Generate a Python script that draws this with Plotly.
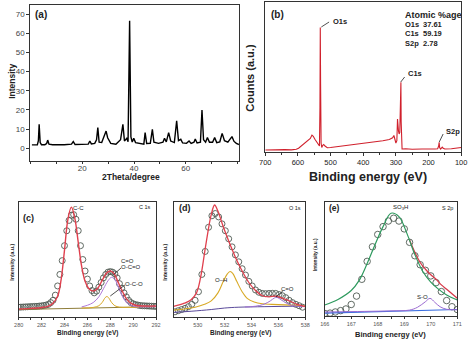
import plotly.graph_objects as go

# ---------------- data ----------------
# (a) XRD pattern
xrd_2theta = [0.5, 2.6, 3.0, 3.3, 3.7, 4.2, 5.5, 6.2, 6.6, 7.1, 8.5, 11, 13, 15.8, 16.5, 17.2, 20, 22.3, 22.9, 23.5, 24.8, 25.5,
              26.0, 26.5, 27.5, 28.6, 29.2, 29.8, 31, 33, 34.8, 35.7, 36.3, 37.2, 37.7, 38.3, 38.8, 39.3, 39.9, 40.6, 42.5,
              43.8, 44.3, 44.9, 46.3, 47.1, 47.7, 49.5, 51.2, 51.8, 52.5, 53.4, 54.2, 55.6, 56.5, 57.2, 58.1, 58.8, 60.3,
              61.3, 62.1, 63.2, 63.7, 64.4, 65.7, 66.3, 66.9, 67.7, 68.4, 69.2, 70.4, 71.2, 72.0, 73.2, 74.1, 75.0, 76.3,
              77.9, 78.7, 79.6, 80.6]
xrd_int = [1.8, 1.8, 4, 12.5, 3, 1.9, 1.9, 2.5, 4.3, 2.2, 1.9, 1.8, 1.9, 2.2, 3.5, 2, 1.9, 2.2, 3.8, 2.3, 2.6, 4.5,
           10.8, 3.2, 3, 6.5, 9, 5.5, 2.6, 2.1, 4.5, 12.5, 3.8, 5.2, 3.5, 66.5, 6, 3.3, 5.2, 3, 2.4,
           2.2, 8.2, 2.5, 2.6, 9.9, 3.2, 2.6, 3.2, 5.2, 3.4, 8.2, 3.8, 3, 14.4, 4, 4.7, 2.8, 2.6,
           3.8, 2.6, 3.2, 4.9, 2.8, 3.2, 20, 4.5, 3.2, 5.6, 3.2, 3.2, 5.6, 3.0, 3.4, 7.8, 4.0, 3.2,
           6.1, 3.6, 2.6, 2.0]
xrd_yticks = [0, 10, 20, 30, 40, 50, 60, 70]
xrd_xticks = [20, 40, 60]

# (b) XPS survey
survey_be = [700, 680, 660, 640, 620, 605, 598, 590, 580, 570, 562, 557, 553, 548, 543, 538, 534, 532.5, 531.5, 530.5,
             529, 527, 524, 521, 517, 510, 500, 480, 450, 420, 400, 370, 340, 320, 310, 306, 303, 300, 297, 295,
             292, 290, 288, 286.5, 285.5, 284.6, 283.8, 282.8, 281, 270, 250, 220, 200, 180, 172, 169, 167.5, 166,
             163, 158, 155, 150, 130, 110, 100]
survey_counts = [1.3, 1.5, 1.2, 1.6, 1.4, 1.8, 2.5, 4, 6, 7.5, 9, 11.3, 10.5, 8.5, 7, 5, 4, 30, 83, 45,
                 6, 3, 4.5, 5, 4, 2.8, 3, 3.5, 4.3, 5, 5.5, 6.5, 7.5, 8.3, 9.5, 11, 7, 6, 7.5, 22,
                 14, 12, 13, 30, 40, 46.5, 20, 3, 2, 2.2, 1.8, 2, 1.8, 2, 2.2, 4, 6.5, 3,
                 2, 3.3, 2.5, 2, 2.2, 2.5, 3]
survey_ticks = [700, 600, 500, 400, 300, 200, 100]
atomic_labels = ["O1s", "C1s", "S2p"]
atomic_pct = ["37.61", "59.19", "2.78"]

# (c) C 1s
c1s_be = [280.0, 280.2, 280.4, 280.6, 280.8, 281.0, 281.2, 281.4, 281.6, 281.8, 282.0, 282.2, 282.4, 282.6, 282.8,
          283.0, 283.2, 283.4, 283.6, 283.8, 284.0, 284.2, 284.4, 284.6, 284.8, 285.0, 285.2, 285.4, 285.6, 285.8,
          286.0, 286.2, 286.4, 286.6, 286.8, 287.0, 287.2, 287.4, 287.6, 287.8, 288.0, 288.2, 288.4, 288.6, 288.8,
          289.0, 289.2, 289.4, 289.6, 289.8, 290.0, 290.2, 290.4, 290.6, 290.8, 291.0, 291.2, 291.4, 291.6, 291.8, 292.0]
c1s_raw = [8.5, 8.6, 8.7, 8.8, 8.9, 9, 9.1, 9.2, 9.3, 9.5, 9.7, 10, 10.4, 11, 12.5,
           14.5, 19, 27, 37, 49, 62, 75, 84, 88.5, 89, 85, 75, 62, 50, 40,
           33, 27, 23, 21, 22.5, 26, 30, 34, 37, 39, 39.5, 39, 37.5, 34, 29,
           25, 21, 17.5, 14.5, 12.5, 11.5, 10.8, 10.4, 10, 9.8, 9.7, 9.6, 9.5, 9.4, 9.3, 9.2]
c1s_fit_be = [280, 281, 282, 282.6, 283.0, 283.4, 283.7, 284.0, 284.3, 284.6, 284.9, 285.2, 285.5, 285.8, 286.1,
              286.5, 286.9, 287.3, 287.7, 288.0, 288.3, 288.7, 289.0, 289.4, 289.8, 290.3, 291, 292]
c1s_fit = [7, 7.5, 8.3, 9.5, 12, 18, 32, 58, 85, 95.5, 86, 65, 44, 31, 25,
           22.5, 25, 32, 38.5, 40, 38, 30, 23.5, 16, 12, 10, 9.5, 9.5]
c1s_oco2_be = [285.5, 286.0, 286.5, 287.0, 287.4, 287.8, 288.1, 288.4, 288.7, 289.0, 289.3, 289.7, 290.2, 291, 292]
c1s_oco2 = [8.8, 10.2, 12.5, 17.5, 24.5, 31.5, 34.5, 32.5, 26, 19, 14, 10.5, 9, 8.8, 9]
c1s_oco_be = [285.5, 286.5, 287.0, 287.3, 287.55, 287.7, 287.85, 288.1, 288.4, 288.8, 289.5, 290.5]
c1s_oco = [7.8, 8.3, 9.8, 12.8, 16.8, 17.8, 16.8, 12.8, 9.8, 8.6, 8.4, 8.5]
c1s_bg_be = [280, 284, 288, 292]
c1s_bg = [6.5, 7.2, 8.2, 9.0]

# (d) O 1s
o1s_be = [528.3, 528.55, 528.8, 529.05, 529.3, 529.55, 529.8, 530.05, 530.3, 530.55, 530.8, 531.05, 531.3, 531.55,
          531.8, 532.05, 532.3, 532.55, 532.8, 533.05, 533.3, 533.55, 533.8, 534.05, 534.3, 534.55, 534.8, 535.05,
          535.3, 535.55, 535.8, 536.05, 536.3, 536.55, 536.8, 537.05, 537.3, 537.55, 537.8]
o1s_raw = [4.5, 5.5, 6.5, 7.5, 9, 11, 14.5, 22, 37, 57, 78, 88, 90, 87,
           81, 75, 68, 61, 54, 48, 42, 36.5, 31, 27, 23.5, 21.5, 20.5, 20.3,
           20.5, 20.6, 20.5, 19.5, 18.5, 16.8, 14.5, 12.5, 11, 9.8, 8.5]
o1s_fit_be = [528.2, 529.0, 529.5, 529.9, 530.2, 530.6, 531.0, 531.25, 531.5, 531.85, 532.3, 532.8, 533.3, 533.8,
              534.3, 534.8, 535.3, 535.8, 536.3, 536.8, 537.4, 538.0]
o1s_fit = [9.3, 12, 15, 21, 34, 63, 89, 97.4, 92, 80, 66, 52, 40, 30,
           23, 18.5, 17.5, 18.2, 16.5, 14, 11, 9]
o1s_oh_be = [528.2, 529.0, 529.8, 530.5, 531.0, 531.5, 531.9, 532.2, 532.4, 532.6, 532.9, 533.3, 533.7, 534.2,
             534.8, 535.5, 536.5, 538.0]
o1s_oh = [6, 7, 8.5, 11, 14, 21, 31, 37.5, 39.5, 38, 31, 22, 16, 13, 11.5, 11, 10.5, 9.5]
o1s_co_be = [533.5, 534.0, 534.6, 535.0, 535.4, 535.7, 535.9, 536.2, 536.6, 537.0, 537.6, 538.0]
o1s_co = [8.7, 9, 10, 11.5, 14, 16.5, 17, 15, 12, 10, 9.2, 9]
o1s_bg_be = [528.2, 529.5, 531.0, 532.0, 533.0, 535.0, 538.0]
o1s_bg = [4, 5, 6.5, 7.8, 8.5, 9, 9.5]

# (e) S 2p
s2p_be = [166.0, 166.2, 166.4, 166.6, 166.8, 167.0, 167.2, 167.4, 167.6, 167.8, 168.0, 168.2, 168.4, 168.6, 168.8,
          169.0, 169.2, 169.4, 169.6, 169.8, 170.0, 170.2, 170.4, 170.6, 170.8, 171.0]
s2p_raw = [0.5, 0.8, 1.8, 3, 4.5, 8.5, 16, 31, 47, 60, 71, 78, 83, 85.5, 83,
           76, 64, 52, 44, 39, 34, 28, 20, 12, 6.5, 4]
s2p_fit_be = [169.2, 169.4, 169.6, 169.8, 170.0, 170.2, 170.4, 170.6, 170.8, 171.0]
s2p_fit = [66, 55, 46, 40, 35, 31, 26, 22, 18, 14]
s2p_so3h_be = [166.0, 166.5, 167.0, 167.3, 167.6, 167.9, 168.2, 168.5, 168.8, 169.1, 169.4, 169.7, 170.0, 170.3,
               170.6, 171.0]
s2p_so3h = [8, 13, 21, 30, 45, 62, 78, 90, 87, 72, 53, 38, 28.5, 22, 17, 12.5]
s2p_so_be = [166.0, 167.5, 168.5, 169.2, 169.5, 169.8, 169.97, 170.15, 170.35, 170.6, 171.0]
s2p_so = [1.8, 2.3, 2.8, 3.5, 6, 11, 14, 10.5, 6.5, 4.2, 3.8]
s2p_bg_be = [166.0, 171.0]
s2p_bg = [0.8, 4.0]

# ---------------- helpers ----------------
W, H = 474, 342
def px(x):
    return x / W
def py(y):
    return 1 - y / H

FONT = "Arial, Liberation Sans, sans-serif"
fig = go.Figure()

# (a)
fig.add_trace(go.Scatter(x=xrd_2theta, y=xrd_int, mode="lines", line=dict(color="black", width=1.4),
                         xaxis="x", yaxis="y"))
# (b)
fig.add_trace(go.Scatter(x=survey_be, y=survey_counts, mode="lines", line=dict(color="#d0202c", width=1.1),
                         xaxis="x2", yaxis="y2"))

circ = dict(symbol="circle-open", size=6, line=dict(color="#4f5a52", width=0.9), color="#4f5a52")
circ_e = dict(symbol="circle-open", size=6.5, line=dict(color="#4f5a52", width=0.9), color="#4f5a52")
# (c)
fig.add_trace(go.Scatter(x=c1s_be, y=c1s_raw, mode="markers", marker=circ, xaxis="x3", yaxis="y3"))
fig.add_trace(go.Scatter(x=c1s_bg_be, y=c1s_bg, mode="lines", line=dict(color="#8f7d3a", width=1), xaxis="x3", yaxis="y3"))
fig.add_trace(go.Scatter(x=c1s_oco_be, y=c1s_oco, mode="lines", line=dict(color="#d8a925", width=1, shape="spline"), xaxis="x3", yaxis="y3"))
fig.add_trace(go.Scatter(x=c1s_oco2_be, y=c1s_oco2, mode="lines", line=dict(color="#b07ad8", width=1, shape="spline"), xaxis="x3", yaxis="y3"))
fig.add_trace(go.Scatter(x=c1s_fit_be, y=c1s_fit, mode="lines", line=dict(color="#e0404e", width=1.4, shape="spline"), xaxis="x3", yaxis="y3"))
# (d)
fig.add_trace(go.Scatter(x=o1s_be, y=o1s_raw, mode="markers", marker=circ, xaxis="x4", yaxis="y4"))
fig.add_trace(go.Scatter(x=o1s_bg_be, y=o1s_bg, mode="lines", line=dict(color="#5a4a9a", width=1, shape="spline"), xaxis="x4", yaxis="y4"))
fig.add_trace(go.Scatter(x=o1s_oh_be, y=o1s_oh, mode="lines", line=dict(color="#d8a925", width=1.1, shape="spline"), xaxis="x4", yaxis="y4"))
fig.add_trace(go.Scatter(x=o1s_co_be, y=o1s_co, mode="lines", line=dict(color="#a070d0", width=1, shape="spline"), xaxis="x4", yaxis="y4"))
fig.add_trace(go.Scatter(x=o1s_fit_be, y=o1s_fit, mode="lines", line=dict(color="#e0404e", width=1.3, shape="spline"), xaxis="x4", yaxis="y4"))
# (e)
fig.add_trace(go.Scatter(x=s2p_be, y=s2p_raw, mode="markers", marker=circ_e, xaxis="x5", yaxis="y5"))
fig.add_trace(go.Scatter(x=s2p_bg_be, y=s2p_bg, mode="lines", line=dict(color="#3b6fe0", width=1.1), xaxis="x5", yaxis="y5"))
fig.add_trace(go.Scatter(x=s2p_so_be, y=s2p_so, mode="lines", line=dict(color="#9a6ad0", width=1, shape="spline"), xaxis="x5", yaxis="y5"))
fig.add_trace(go.Scatter(x=s2p_fit_be, y=s2p_fit, mode="lines", line=dict(color="#d63a4a", width=1.3, shape="spline"), xaxis="x5", yaxis="y5"))
fig.add_trace(go.Scatter(x=s2p_so3h_be, y=s2p_so3h, mode="lines", line=dict(color="#2e9a5e", width=1.2, shape="spline"), xaxis="x5", yaxis="y5"))

def axis_common(**kw):
    d = dict(showline=True, mirror=True, linecolor="#333", linewidth=1, showgrid=False, zeroline=False,
             ticks="outside", tickcolor="#333")
    d.update(kw)
    return d

small_tick = dict(family=FONT, size=5.5, color="#555")
fig.update_layout(
    width=W, height=H, margin=dict(l=0, r=0, t=0, b=0), showlegend=False,
    paper_bgcolor="white", plot_bgcolor="white", font=dict(family=FONT),
    xaxis=axis_common(domain=[px(25), px(239)], range=[-0.1, 80.6], tickvals=xrd_xticks, ticklen=2,
                      ticklabelstandoff=-3,
                      tickfont=dict(family=FONT, size=8, color="#444"),
                      minor=dict(dtick=10, ticklen=1.5, tickcolor="#333", ticks="outside")),
    yaxis=axis_common(domain=[py(161), py(5)], range=[-6.6, 74.7], tickvals=xrd_yticks, ticklen=3,
                      tickfont=dict(family=FONT, size=8, color="#444")),
    xaxis2=axis_common(domain=[px(266), px(467)], range=[700, 100], tickvals=survey_ticks, ticklen=3,
                       tickfont=dict(family=FONT, size=7.5, color="#222"), anchor="y2",
                       minor=dict(dtick=50, ticklen=2, tickcolor="#333", ticks="outside")),
    yaxis2=axis_common(domain=[py(152), py(2)], range=[0, 100], showticklabels=False, ticks="", anchor="x2"),
    xaxis3=axis_common(domain=[px(13), px(154)], range=[280, 292], dtick=2, ticklen=2, tickfont=small_tick, anchor="y3",
                       minor=dict(dtick=1, ticklen=1.5, tickcolor="#333", ticks="outside")),
    yaxis3=axis_common(domain=[py(317), py(202)], range=[0, 100], showticklabels=False, ticks="", anchor="x3"),
    xaxis4=axis_common(domain=[px(172), px(307)], range=[528.2, 538.0], tickvals=[530, 532, 534, 536, 538], ticklen=2,
                       tickfont=small_tick, anchor="y4",
                       minor=dict(dtick=1, ticklen=1.5, tickcolor="#333", ticks="outside")),
    yaxis4=axis_common(domain=[py(317), py(202)], range=[0, 100], showticklabels=False, ticks="", anchor="x4"),
    xaxis5=axis_common(domain=[px(327), px(463)], range=[166, 171], dtick=1, ticklen=2, tickfont=small_tick, anchor="y5",
                       minor=dict(dtick=0.5, ticklen=1.5, tickcolor="#333", ticks="outside")),
    yaxis5=axis_common(domain=[py(316), py(202)], range=[-1.79, 100], showticklabels=False, ticks="", anchor="x5"),
)

ann = []
def txt(x, y, s, size, bold=False, color="#222", xanchor="center", angle=0):
    ann.append(dict(x=px(x), y=py(y), xref="paper", yref="paper", text=("<b>%s</b>" % s) if bold else s,
                    showarrow=False, xanchor=xanchor, yanchor="middle", textangle=angle,
                    font=dict(family=FONT, size=size, color=color)))

# panel labels
txt(36, 14, "(a)", 10, True)
txt(279, 14, "(b)", 10, True)
txt(23, 218, "(c)", 9, True)
txt(184, 208, "(d)", 9, True)
txt(337, 208, "(e)", 8.5, True)
# axis titles
txt(128, 177, "2Theta/degree", 8.5, True)
txt(6, 81, "Intensity", 8.5, True, angle=-90)
txt(371, 177, "Binding energy (eV)", 12.5, True)
txt(250, 78, "Counts (a.u.)", 11, True, angle=-90)
txt(84, 333, "Binding energy (eV)", 6.5, True)
txt(6, 262, "Intensity (a.u.)", 5.5, True, angle=-90)
txt(241, 333, "Binding energy (eV)", 6.5, True)
txt(163, 262, "Intensity (a.u.)", 5.5, True, angle=-90)
txt(394, 334, "Binding energy (eV)", 7.5, True)
txt(317, 254, "Intensity (a.u.)", 4.8, True, angle=-90)
# survey annotations
txt(407, 15, "Atomic %age", 9, True, xanchor="left")
for i, (lab, val) in enumerate(zip(atomic_labels, atomic_pct)):
    txt(407, 24.5 + 9.5 * i, lab, 7.5, True, xanchor="left")
    txt(426, 24.5 + 9.5 * i, val, 7.5, True, xanchor="left")
txt(333, 21.5, "O1s", 7.5, True, xanchor="left")
txt(410, 74, "C1s", 7.5, True, xanchor="left")
txt(449, 131, "S2p", 7.5, True, xanchor="left")
# core level annotations
txt(143, 207, "C 1s", 5.5)
txt(74, 208, "C-C", 6)
txt(125, 261, "C=O", 6)
txt(128, 267, "O-C=O", 6)
txt(131, 284, "O-C-O", 6)
txt(296, 208, "O 1s", 5.5)
txt(221, 280, "O–H", 6)
txt(289, 289, "C=O", 6)
txt(453, 208, "S 2p", 5.5)
txt(405, 207, "SO<sub>3</sub>H", 6)
txt(427, 297, "S-O", 6)
fig.update_layout(annotations=ann)

shapes = []
def seg(x0, y0, x1, y1, color="#222"):
    shapes.append(dict(type="line", xref="paper", yref="paper", x0=px(x0), y0=py(y0), x1=px(x1), y1=py(y1),
                       line=dict(color=color, width=0.8)))
seg(323.5, 27, 331.5, 22)
seg(405, 82, 409, 77)
seg(444.5, 142, 448.5, 134)
seg(118, 268, 110, 275)
seg(122, 285, 107, 296)
seg(284, 291, 277, 297)
fig.update_layout(shapes=shapes)

fig.write_html("out.html")
